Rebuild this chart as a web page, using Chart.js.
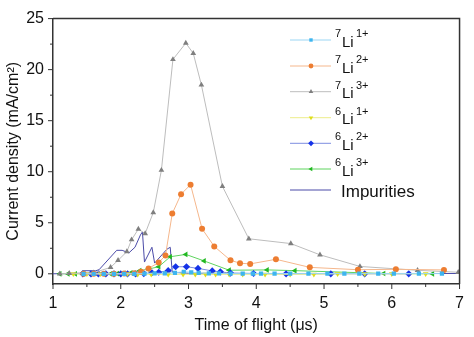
<!DOCTYPE html>
<html>
<head>
<meta charset="utf-8">
<script src="https://cdn.jsdelivr.net/npm/chart.js@4.4.1/dist/chart.umd.min.js"></script>
<style>
  html, body { margin: 0; padding: 0; background: #fff; }
  #wrap { width: 474px; height: 337px; }
</style>
</head>
<body>
<div id="wrap"><canvas id="myChart" width="474" height="337"></canvas></div>
<script>
// series (x = time of flight in µs, y = current density)
let li7_1x = [1.45, 1.6, 1.75, 1.9, 2.05, 2.2, 2.35, 2.5, 2.65, 2.8, 2.93, 3.04, 3.15, 3.3, 3.45, 3.62, 3.8, 3.95, 4.07, 4.27, 4.5, 4.77, 5.05, 5.3, 5.52, 5.8, 6.03, 6.4, 6.74];
let li7_1y = [0, 0, 0, 0, 0, 0, 0.02, 0.05, 0.05, 0.1, 0.2, 0.15, 0.08, 0.05, 0.03, 0.02, 0.02, 0.02, 0.02, 0.02, 0.02, 0.02, 0.02, 0.02, 0.02, 0.02, 0.02, 0.02, 0.02];

let li7_2x = [1.45, 1.6, 1.75, 1.9, 2.05, 2.2, 2.3, 2.41, 2.56, 2.66, 2.76, 2.89, 3.03, 3.2, 3.38, 3.62, 3.76, 3.91, 4.29, 4.79, 5.5, 6.06, 6.77];
let li7_2y = [0, 0, 0, 0, 0.02, 0.05, 0.2, 0.53, 1.1, 1.8, 5.9, 7.8, 8.73, 4.41, 2.68, 1.32, 1.04, 0.97, 1.42, 0.63, 0.4, 0.44, 0.38];

let li7_3x = [1.1, 1.24, 1.45, 1.6, 1.85, 1.96, 2.09, 2.16, 2.26, 2.36, 2.48, 2.6, 2.77, 2.96, 3.07, 3.19, 3.5, 3.89, 4.51, 4.94, 5.53, 6.38, 6.98];
let li7_3y = [0, 0.05, 0.05, 0.1, 0.63, 1.32, 2.17, 3.34, 4.38, 3.94, 6.0, 10.15, 21.0, 22.6, 21.6, 18.5, 8.57, 3.43, 2.96, 1.86, 0.72, 0.34, 0.15];

let li6_1x = [1.3, 1.5, 1.7, 1.9, 2.1, 2.25, 2.45, 2.7, 2.92, 3.1, 3.25, 3.4, 3.6, 3.8, 4.13, 4.5, 4.85, 5.2, 5.6, 6.0, 6.5];
let li6_1y = [0, 0, 0, 0, 0, -0.05, -0.05, -0.05, -0.05, -0.05, -0.05, -0.05, -0.05, -0.05, -0.05, -0.05, -0.05, 0, 0, 0, 0];

let li6_2x = [1.44, 1.56, 1.67, 1.78, 1.9, 2.0, 2.1, 2.22, 2.34, 2.46, 2.56, 2.7, 2.81, 2.97, 3.14, 3.35, 3.47, 3.62, 3.96, 4.44, 5.1, 5.6, 6.25];
let li6_2y = [0, 0, 0, 0, 0, 0, 0, 0, 0.02, 0.1, 0.15, 0.31, 0.69, 0.69, 0.53, 0.28, 0.19, 0.07, 0.03, 0, 0, 0, 0];

let li6_3x = [1.1, 1.22, 1.33, 1.45, 1.55, 1.65, 1.75, 1.85, 1.95, 2.05, 2.15, 2.28, 2.4, 2.56, 2.73, 2.96, 3.23, 3.6, 4.16, 4.57, 5.88, 6.6];
let li6_3y = [0, 0, 0, 0, 0, 0, 0, 0, 0.02, 0.05, 0.1, 0.31, 0.45, 0.69, 1.67, 1.9, 1.26, 0.35, 0.38, 0.31, 0.03, 0];

let impX = [1.0, 1.4, 1.44, 1.63, 1.68, 1.94, 2.02, 2.12, 2.21, 2.29, 2.32, 2.35, 2.46, 2.5, 2.68, 2.73, 2.76, 3.0, 4.0, 5.0, 6.0, 7.0];
let impY = [0, 0.05, 0.3, 0.3, 0.4, 2.3, 2.3, 2.05, 2.6, 3.8, 4.1, 1.15, 2.6, 1.05, 2.4, 2.6, 0.15, 0.05, 0.03, 0.03, 0.03, 0.03];

let xTicks = [1, 2, 3, 4, 5, 6, 7];
let yTicks = [0, 5, 10, 15, 20, 25];

let FONT = "'Liberation Sans', Arial, sans-serif";

function pts(xs, ys) {
  return xs.map((x, i) => ({ x: x, y: ys[i] }));
}

function series(label, mass, charge, xs, ys, line, mark, style, radius, rotation) {
  return {
    label: label,
    mass: mass,
    charge: charge,
    data: pts(xs, ys),
    borderColor: line,
    borderWidth: 1,
    backgroundColor: mark,
    pointBackgroundColor: mark,
    pointBorderColor: mark,
    pointBorderWidth: 0,
    pointStyle: style,
    pointRadius: radius,
    pointRotation: rotation,
    tension: 0,
  };
}

let datasets = [
  series("7Li1+", "7", "1+", li7_1x, li7_1y, "#9bd6f4", "#3db5ef", "rect", 3, 0),
  series("7Li2+", "7", "2+", li7_2x, li7_2y, "#f5b78c", "#ed7d31", "circle", 3, 0),
  series("7Li3+", "7", "3+", li7_3x, li7_3y, "#bdbdbd", "#7f7f7f", "triangle", 3.3, 0),
  series("6Li1+", "6", "1+", li6_1x, li6_1y, "#eded8a", "#dede1a", "triangle", 3.3, 180),
  series("6Li2+", "6", "2+", li6_2x, li6_2y, "#7d8ee0", "#1432e8", "rectRot", 3.6, 0),
  series("6Li3+", "6", "3+", li6_3x, li6_3y, "#5fd45f", "#22b822", "triangle", 3.3, -90),
  {
    label: "Impurities",
    data: pts(impX, impY),
    borderColor: "#4b4ba8",
    backgroundColor: "#4b4ba8",
    borderWidth: 1,
    pointRadius: 0,
    tension: 0,
  },
];

// legend rows, minor ticks and the top/right frame lines
let extras = {
  id: "extras",
  afterDraw(chart) {
    let c = chart.ctx;
    let a = chart.chartArea;
    let xs = chart.scales.x;
    let ys = chart.scales.y;
    c.save();
    c.strokeStyle = "#333";
    c.lineWidth = 1.5;
    c.beginPath();
    c.moveTo(a.left, a.top);
    c.lineTo(a.right, a.top);
    c.lineTo(a.right, a.bottom);
    c.stroke();

    c.lineWidth = 1;
    c.strokeStyle = "#333";
    c.beginPath();
    for (let v = 1; v <= 7.001; v += 0.5) {
      let px = xs.getPixelForValue(v);
      let len = Number.isInteger(v) ? 5 : 3;
      c.moveTo(px, a.bottom);
      c.lineTo(px, a.bottom + len);
    }
    for (let v = 0; v <= 25.001; v += 2.5) {
      let py = ys.getPixelForValue(v);
      let len = v % 5 === 0 ? 5 : 3;
      c.moveTo(a.left, py);
      c.lineTo(a.left - len, py);
    }
    c.stroke();

    // legend
    let rowsY = [40, 66, 91.7, 117.7, 143.3, 169, 190];
    chart.data.datasets.forEach((ds, i) => {
      let y = rowsY[i];
      c.strokeStyle = ds.borderColor;
      c.lineWidth = 1;
      c.beginPath();
      c.moveTo(290, y);
      c.lineTo(331, y);
      c.stroke();
      if (ds.pointRadius > 0) {
        c.fillStyle = ds.pointBackgroundColor;
        c.strokeStyle = ds.pointBackgroundColor;
        Chart.helpers.drawPoint(c, {
          pointStyle: ds.pointStyle,
          radius: ds.pointRadius * 0.8,
          rotation: ds.pointRotation,
          borderWidth: 0,
        }, 311, y);
      }
      c.fillStyle = "#111";
      c.textBaseline = "alphabetic";
      c.textAlign = "left";
      if (ds.mass) {
        c.font = "11px " + FONT;
        c.fillText(ds.mass, 335, y - 3);
        c.font = "15px " + FONT;
        c.fillText("Li", 342, y + 6.5);
        c.font = "11px " + FONT;
        c.fillText(ds.charge, 356, y - 3);
      } else {
        c.font = "17px " + FONT;
        c.fillText(ds.label, 341, y + 6.5);
      }
    });
    c.restore();
  },
};

let ctx = document.getElementById("myChart").getContext("2d");
let myChart = new Chart(ctx, {
  type: "line",
  data: { datasets: datasets },
  options: {
    responsive: false,
    animation: false,
    layout: { padding: { top: 9, right: 5, left: 0, bottom: 0 } },
    plugins: { legend: { display: false }, tooltip: { enabled: false } },
    scales: {
      x: {
        type: "linear",
        min: 1,
        max: 7,
        afterBuildTicks: (s) => { s.ticks = xTicks.map((v) => ({ value: v })); },
        afterFit: (s) => { s.height = 53; },
        grid: { display: false, drawTicks: false },
        border: { display: true, color: "#333", width: 1.5 },
        ticks: { color: "#111", font: { family: FONT, size: 16 }, padding: 10, maxRotation: 0 },
        title: { display: true, text: "Time of flight (μs)", color: "#111", font: { family: FONT, size: 16 }, padding: { top: 0, bottom: 2 } },
      },
      y: {
        type: "linear",
        min: -1,
        max: 25,
        afterBuildTicks: (s) => { s.ticks = yTicks.map((v) => ({ value: v })); },
        afterFit: (s) => { s.width = 53; },
        grid: { display: false, drawTicks: false },
        border: { display: true, color: "#333", width: 1.5 },
        ticks: { color: "#111", font: { family: FONT, size: 16 }, padding: 9 },
        title: { display: true, text: "Current density (mA/cm²)", color: "#111", font: { family: FONT, size: 16 }, padding: { top: 4, bottom: 0 } },
      },
    },
  },
  plugins: [extras],
});
</script>
</body>
</html>
